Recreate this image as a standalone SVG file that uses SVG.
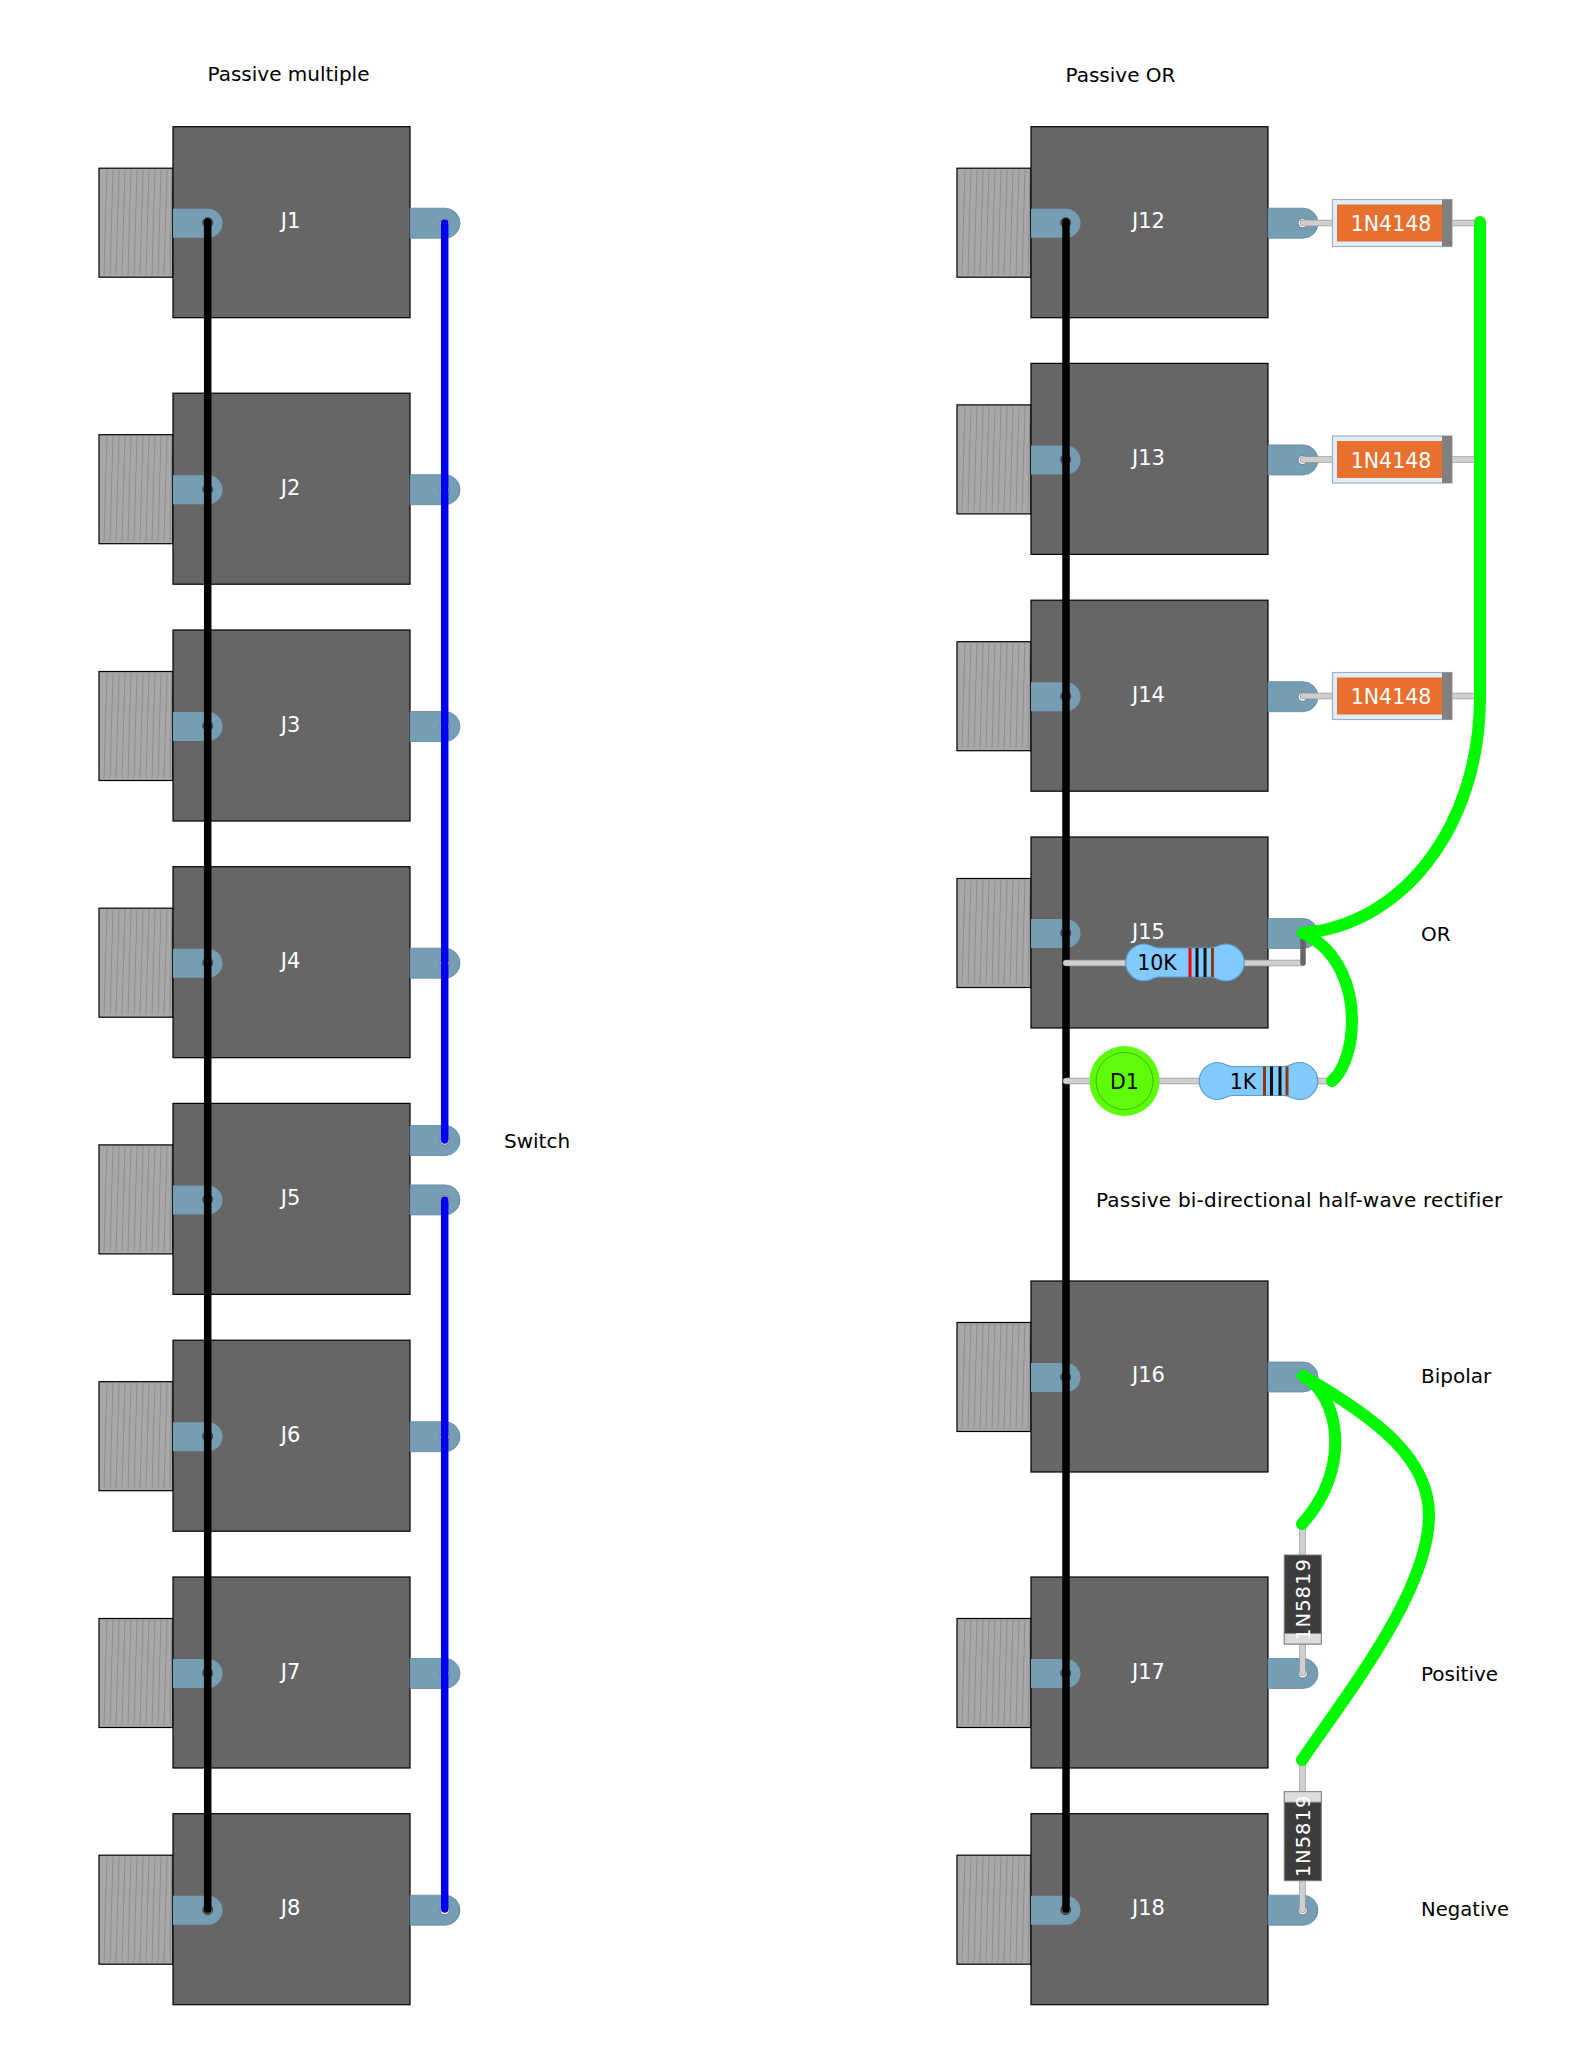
<svg xmlns="http://www.w3.org/2000/svg" width="1588" height="2048" viewBox="0 0 1588 2048">
<style>
text{font-family:"DejaVu Sans",sans-serif;}
.lbl{font-size:20px;fill:#000;}
.jl{font-size:21px;fill:#fff;text-anchor:middle;}
.wire{fill:none;stroke-linecap:round;stroke-width:7.5;}
.green{fill:none;stroke:#00f800;stroke-width:12;stroke-linecap:round;}
.leadb{stroke:#9a9a9a;stroke-width:6.5;stroke-linecap:round;fill:none;}
.lead{stroke:#cfcfcf;stroke-width:5;stroke-linecap:round;fill:none;}
.dlab{font-size:20.5px;fill:#fff;text-anchor:middle;}
.rlab{font-size:20.5px;fill:#000;text-anchor:middle;}
.sch{font-size:19.5px;fill:#fff;text-anchor:middle;letter-spacing:1px;}
</style>
<defs>
<g id="jack">
<rect x="99" y="41.5" width="74" height="109" fill="#a8a8a8" stroke="#000" stroke-width="1.2"/>
<path d="M104 148 L107 43 M110 148 L113 43 M116 148 L119 43 M122 148 L125 43 M128 148 L131 43 M134 148 L137 43 M140 148 L143 43 M146 148 L149 43 M152 148 L155 43 M158 148 L161 43 M164 148 L167 43 M170 148 L172 43" stroke="#8e8e8e" stroke-width="1" fill="none"/>
<rect x="173" y="0" width="237" height="191" fill="#666" stroke="#000" stroke-width="1.2"/>
<path d="M173 82 H208 A14.5 14.5 0 0 1 208 111 H173 Z" fill="#759db3"/>
<circle cx="207.700" cy="96" r="5" fill="#555" stroke="#444"/>
</g>
<g id="tab">
<path d="M0 -15 H35 A15 15 0 0 1 35 15 H0 Z" fill="#759db3" stroke="#62889e" stroke-width="0.8"/>
<circle cx="34.700" cy="0" r="4.600" fill="#fff" stroke="#666" stroke-width="0.8"/>
</g>
<g id="d4148">
<rect x="-69.500" y="-23.500" width="119.500" height="47" fill="#e0eefa" stroke="#a9adb5" stroke-width="1.2"/>
<rect x="-65" y="-18.500" width="105" height="37" fill="#e8702f"/>
<rect x="40" y="-23.500" width="10" height="47" fill="#808080"/>
</g>
<g id="d5819">
<rect x="-18.500" y="0" width="37" height="89" fill="#3c3c3c" stroke="#777" stroke-width="1"/>
<rect x="-18.500" y="78.500" width="37" height="10.500" fill="#dcdcdc" stroke="#888" stroke-width="1"/>
</g>
<path id="res" d="M18.500 -18.500 C25 -18.500 28 -14.500 33 -14.500 H85 C90 -14.500 93 -18.500 100 -18.500 A18.500 18.500 0 0 1 100 18.500 C93 18.500 90 14.500 85 14.500 H33 C28 14.500 25 18.500 18.500 18.500 A18.500 18.500 0 0 1 18.500 -18.500 Z" fill="#80caff" stroke="#5d9cc8" stroke-width="1.2"/>
</defs>
<text class="lbl" x="288.500" y="80.500" text-anchor="middle">Passive multiple</text>
<text class="lbl" x="1120.500" y="82" text-anchor="middle">Passive OR</text>
<text class="lbl" x="504" y="1147.500">Switch</text>
<text class="lbl" x="1421" y="940.500">OR</text>
<text class="lbl" x="1096" y="1207" letter-spacing="0.2">Passive bi-directional half-wave rectifier</text>
<text class="lbl" x="1421" y="1382.500">Bipolar</text>
<text class="lbl" x="1421" y="1680.500">Positive</text>
<text class="lbl" x="1421" y="1915.500" textLength="88" lengthAdjust="spacingAndGlyphs">Negative</text>

<g id="J1"><use href="#jack" transform="translate(0,126.700)"/><use href="#tab" transform="translate(410,223.200)"/><text class="jl" x="290.500" y="228">J1</text></g>
<g id="J2"><use href="#jack" transform="translate(0,393.200)"/><use href="#tab" transform="translate(410,489.700)"/><text class="jl" x="290.500" y="495">J2</text></g>
<g id="J3"><use href="#jack" transform="translate(0,630)"/><use href="#tab" transform="translate(410,726.500)"/><text class="jl" x="290.500" y="732">J3</text></g>
<g id="J4"><use href="#jack" transform="translate(0,866.700)"/><use href="#tab" transform="translate(410,963.200)"/><text class="jl" x="290.500" y="968">J4</text></g>
<g id="J5"><use href="#jack" transform="translate(0,1103.400)"/><use href="#tab" transform="translate(410,1140.500)"/><use href="#tab" transform="translate(410,1199.900)"/><text class="jl" x="290.500" y="1205">J5</text></g>
<g id="J6"><use href="#jack" transform="translate(0,1340.200)"/><use href="#tab" transform="translate(410,1436.700)"/><text class="jl" x="290.500" y="1442">J6</text></g>
<g id="J7"><use href="#jack" transform="translate(0,1577)"/><use href="#tab" transform="translate(410,1673.500)"/><text class="jl" x="290.500" y="1679">J7</text></g>
<g id="J8"><use href="#jack" transform="translate(0,1813.700)"/><use href="#tab" transform="translate(410,1910.200)"/><text class="jl" x="290.500" y="1915">J8</text></g>

<g id="J12"><use href="#jack" transform="translate(858,126.700)"/><use href="#tab" transform="translate(1268,223.200)"/><text class="jl" x="1148.500" y="228">J12</text></g>
<g id="J13"><use href="#jack" transform="translate(858,363.400)"/><use href="#tab" transform="translate(1268,459.900)"/><text class="jl" x="1148.500" y="465">J13</text></g>
<g id="J14"><use href="#jack" transform="translate(858,600.200)"/><use href="#tab" transform="translate(1268,696.700)"/><text class="jl" x="1148.500" y="702">J14</text></g>
<g id="J15"><use href="#jack" transform="translate(858,837)"/><use href="#tab" transform="translate(1268,933.500)"/><text class="jl" x="1148.500" y="939">J15</text></g>
<g id="J16"><use href="#jack" transform="translate(858,1281)"/><use href="#tab" transform="translate(1268,1377)"/><text class="jl" x="1148.500" y="1382">J16</text></g>
<g id="J17"><use href="#jack" transform="translate(858,1577)"/><use href="#tab" transform="translate(1268,1673.500)"/><text class="jl" x="1148.500" y="1679">J17</text></g>
<g id="J18"><use href="#jack" transform="translate(858,1813.700)"/><use href="#tab" transform="translate(1268,1910.200)"/><text class="jl" x="1148.500" y="1915">J18</text></g>

<g id="connectors">
<path class="wire" stroke="#000" d="M207.700 222V1909"/>
<path class="wire" stroke="#0000ee" d="M444.700 223V1140M444.700 1200V1909"/>
<path class="wire" stroke="#000" d="M1066 222V1909"/>
<path class="leadb" d="M1303 223H1480M1303 459.500H1480M1303 696H1480M1066 963H1302M1066 1081H1332M1302.500 1524V1673M1302.500 1763V1909.700"/>
<path class="lead" d="M1303 223H1480M1303 459.500H1480M1303 696H1480M1066 963H1302M1066 1081H1332M1302.500 1524V1673M1302.500 1763V1909.700"/>
<path d="M1303 933V963" stroke="#666" stroke-width="5.500" stroke-linecap="round"/>
<path class="green" d="M1480 222V696C1480 830 1400 925 1303 933"/>
<path class="green" d="M1303 933C1340 950 1352 990 1352 1020C1352 1045 1345 1070 1332 1081"/>
<path class="green" d="M1303 1376C1340 1395 1352 1470 1302 1524"/>
<path class="green" d="M1303 1376C1380 1420 1429 1460 1429 1515C1429 1590 1350 1690 1302 1760"/>
</g>

<g id="D12"><use href="#d4148" transform="translate(1402,223)"/><text class="dlab" x="1391" y="231">1N4148</text></g>
<g id="D13"><use href="#d4148" transform="translate(1402,459.500)"/><text class="dlab" x="1391" y="467.500">1N4148</text></g>
<g id="D14"><use href="#d4148" transform="translate(1402,696)"/><text class="dlab" x="1391" y="704">1N4148</text></g>
<g id="R10K"><use href="#res" transform="translate(1125.700,962.500)"/>
<rect x="1188.500" y="948" width="3" height="29" fill="#f00"/><rect x="1195.500" y="948" width="3" height="29" fill="#111"/><rect x="1203.500" y="948" width="3" height="29" fill="#111"/><rect x="1211" y="948" width="3" height="29" fill="#8a3a0c"/>
<text class="rlab" x="1157" y="970">10K</text></g>
<g id="D1"><circle cx="1124.500" cy="1081" r="35" fill="#5dfc0a"/><circle cx="1124.500" cy="1081" r="28.500" fill="none" stroke="#46b510" stroke-width="1"/><text x="1124.500" y="1088.500" font-size="20.500" fill="#000" text-anchor="middle">D1</text></g>
<g id="R1K"><use href="#res" transform="translate(1199.300,1081)"/>
<rect x="1263" y="1066.500" width="3" height="29" fill="#8a3a0c"/><rect x="1270" y="1066.500" width="3" height="29" fill="#111"/><rect x="1278.500" y="1066.500" width="3" height="29" fill="#111"/><rect x="1285.500" y="1066.500" width="3" height="29" fill="#8a3a0c"/>
<text class="rlab" x="1243" y="1088.500">1K</text></g>
<g id="D17"><use href="#d5819" transform="translate(1302.800,1555)"/><text class="sch" transform="translate(1309.500,1599.500) rotate(-90)">1N5819</text></g>
<g id="D18"><use href="#d5819" transform="translate(1302.800,1880.700) scale(1,-1)"/><text class="sch" transform="translate(1309.500,1836) rotate(-90)">1N5819</text></g>
</svg>
